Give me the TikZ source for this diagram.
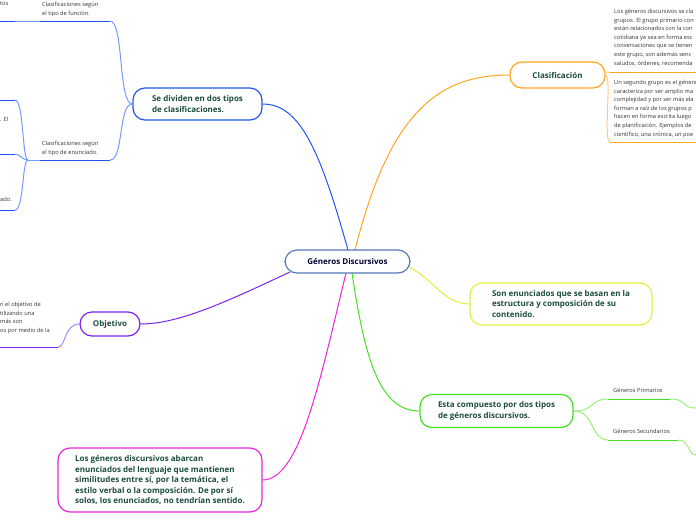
\documentclass[tikz,border=0pt]{standalone}
\usepackage{fontspec}
\setmainfont{Open Sans}
\begin{document}
\begin{tikzpicture}[x=1pt,y=-1pt,
 box/.style={draw,rounded corners=12pt,line width=1.2pt,fill=white,font=\fontsize{8}{10.5}\selectfont\bfseries,text=txt,align=left,inner xsep=10pt},
 small/.style={font=\fontsize{5.7}{8.6}\selectfont,text=black!80,align=left,anchor=north west,inner sep=0pt},
 con/.style={line width=1pt}]
\definecolor{txt}{HTML}{1B4D3E}
\definecolor{colb}{HTML}{2255EE}\definecolor{colbl}{HTML}{7799FF}
\definecolor{colo}{HTML}{FFA51F}\definecolor{coly}{HTML}{E3F03A}
\definecolor{colp}{HTML}{7A22EE}\definecolor{colpl}{HTML}{AA88FF}
\definecolor{colg}{HTML}{44E022}\definecolor{colgl}{HTML}{99F077}
\definecolor{colm}{HTML}{EE22DD}\definecolor{colc}{HTML}{5577BB}
\useasboundingbox (0,0) rectangle (696,520);
\clip (0,0) rectangle (696,520);
\coordinate (c1) at (348,250);\coordinate (c2) at (355,250);
\coordinate (c3) at (395,262);\coordinate (c4) at (290,272);
\coordinate (c5) at (352,273);\coordinate (c6) at (346,273);
\node[box,draw=colb,minimum width=129pt,minimum height=32pt] (bl) at (197.5,104) {Se dividen en dos tipos\\de clasificaciones.};
\node[box,draw=colo,minimum width=95pt,minimum height=26pt,align=center] (cl) at (557.5,75) {Clasificación};
\node[box,draw=coly,minimum width=182pt,minimum height=42pt] (ye) at (561,304) {Son enunciados que se basan en la\\estructura y composición de su\\contenido.};
\node[box,draw=colp,minimum width=60pt,minimum height=24pt,align=center,inner xsep=4pt] (ob) at (110,324) {Objetivo};
\node[box,draw=colg,minimum width=153pt,minimum height=33pt] (gr) at (496.5,411) {Esta compuesto por dos tipos\\de géneros discursivos.};
\node[box,draw=colm,minimum width=204pt,minimum height=64pt] (mg) at (160,480) {Los géneros discursivos abarcan\\enunciados del lenguaje que mantienen\\similitudes entre sí, por la temática, el\\estilo verbal o la composición. De por sí\\solos, los enunciados, no tendrían sentido.};
\draw[con,colb] (c1) .. controls (320,150) and (300,104) .. (bl.east);
\draw[con,colo] (c2) .. controls (390,110) and (440,75) .. (cl.west);
\draw[con,coly] (c3) .. controls (430,270) and (440,304) .. (ye.west);
\draw[con,colp] (c4) .. controls (230,300) and (180,324) .. (ob.east);
\draw[con,colg] (c5) .. controls (365,360) and (380,411) .. (gr.west);
\draw[con,colm] (c6) .. controls (320,380) and (300,480) .. (mg.east);
\node[box,draw=colc,minimum width=125pt,minimum height=23pt,align=center,text=black!80!blue] (ce) at (347.5,261.5) {Géneros Discursivos};
\coordinate (f1) at (40,21);\coordinate (f2) at (110,21);
\coordinate (e1) at (40,160);\coordinate (e2) at (110,160);
\draw[con,colbl] (bl.west) .. controls (118,104) and (124,21) .. (110,21);
\draw[con,colbl] (bl.west) .. controls (118,104) and (124,160) .. (110,160);
\draw[con,colb] (f1) -- (f2); \draw[con,colb] (e1) -- (e2);
\node[small] (t1) at (42,2) {Clasificaciones según\\el tipo de función.};
\node[small] (t2) at (42,141) {Clasificaciones según\\el tipo de enunciado.};
\coordinate (a1) at (0,21);\coordinate (a2) at (15,21);
\draw[con,colbl] (f1) -- (a2); \draw[con,colb] (a1) -- (a2);
\coordinate (j) at (28,160);
\draw[con,colbl] (e1) -- (j);
\draw[con,colbl] (j) .. controls (22,160) and (24,100) .. (15,100);
\draw[con,colbl] (j) .. controls (22,160) and (20,154) .. (15,154);
\draw[con,colbl] (j) .. controls (22,160) and (24,210) .. (15,210);
\coordinate (b1) at (0,100);\coordinate (b2) at (15,100);
\coordinate (b3) at (0,154);\coordinate (b4) at (15,154);
\coordinate (b5) at (0,210);\coordinate (b6) at (15,210);
\draw[con,colb] (b1)--(b2); \draw[con,colb] (b3)--(b4); \draw[con,colb] (b5)--(b6);
\node[small] (s1) at (0,2) {tos};
\node[small] (s2) at (0,117) {. El};
\node[small] (s3) at (0,197) {ado.};
\coordinate (o1) at (610,72);\coordinate (o2) at (696,72);
\coordinate (o3) at (610,142);\coordinate (o4) at (696,142);
\draw[con,colo!60] (cl.east) .. controls (605,75) and (600,72) .. (o1);
\draw[con,colo!60] (cl.east) .. controls (612,75) and (603,142) .. (o3);
\draw[con,colo] (o1)--(o2); \draw[con,colo] (o3)--(o4);
\node[small] (p1) at (614,9) {Los géneros discursivos se cla\\grupos. El grupo primario con\\están relacionados con la con\\cotidiana ya sea en forma esc\\conversaciones que se tienen\\este grupo, son además senc\\saludos, órdenes, recomenda};
\node[small] (p2) at (614,80) {Un segundo grupo es el génere\\caracteriza por ser amplio ma\\complejidad y por ser más ela\\forman a raíz de los grupos p\\hacen en forma escrita luego\\de planificación. Ejemplos de\\científico, una crónica, un poe};
\coordinate (q1) at (0,347);\coordinate (q2) at (58,347);
\draw[con,colpl] (ob.west) .. controls (64,324) and (66,347) .. (q2);
\draw[con,colp] (q1)--(q2);
\node[small] (pt) at (0,302) {n el objetivo de\\tilizando una\\más son\\os por medio de la};
\coordinate (g1) at (608,399);\coordinate (g2) at (670,399);
\coordinate (g3) at (608,440);\coordinate (g4) at (678,440);
\coordinate (g5) at (696,408);\coordinate (g6) at (696,455);
\draw[con,colgl] (gr.east) .. controls (595,411) and (590,399) .. (g1);
\draw[con,colgl] (gr.east) .. controls (595,411) and (590,440) .. (g3);
\draw[con,colg] (g1)--(g2); \draw[con,colg] (g3)--(g4);
\draw[con,colgl] (g2) .. controls (688,399) and (680,408) .. (g5);
\draw[con,colgl] (g4) .. controls (690,440) and (688,455) .. (g6);
\node[small] (gt1) at (613,388) {Géneros Primarios};
\node[small] (gt2) at (613,429) {Géneros Secundarios};
\end{tikzpicture}
\end{document}
